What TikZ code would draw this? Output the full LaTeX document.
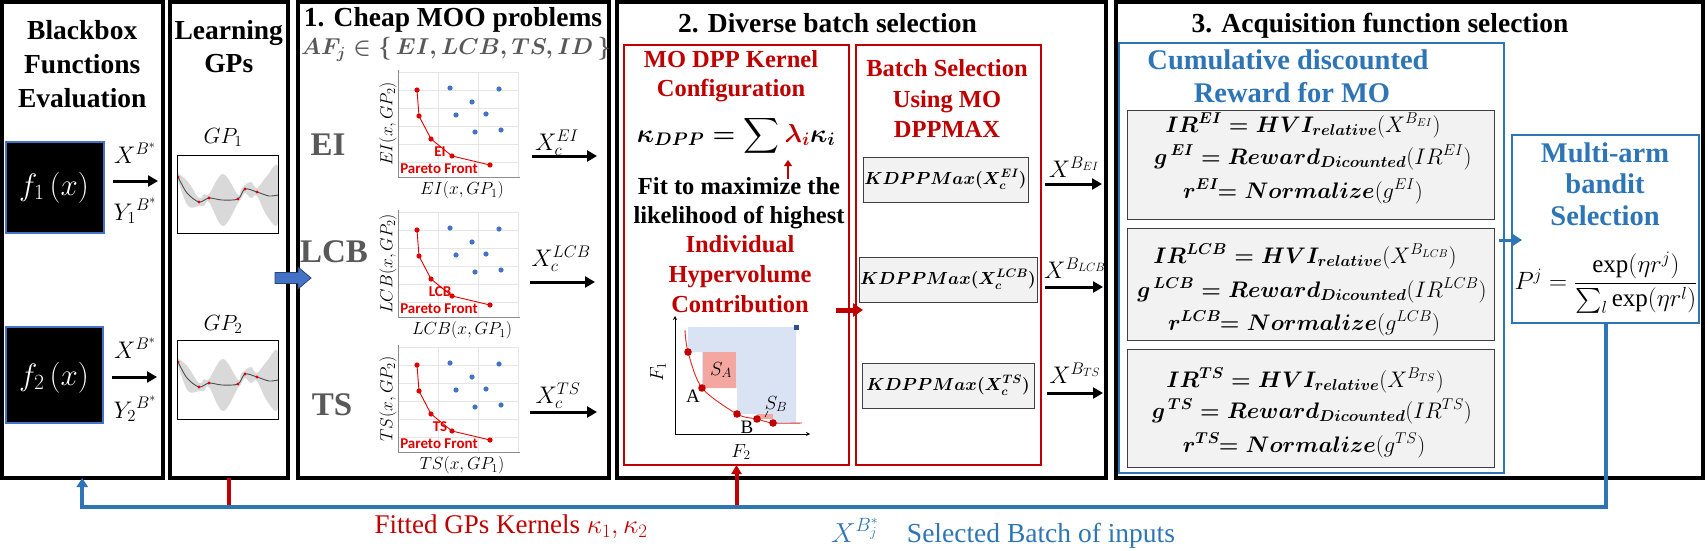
\RequirePackage{fix-cm}
\documentclass[tikz,border=0pt]{standalone}
\usepackage{amsmath}
\usepackage{fontspec}
\setmainfont{Liberation Serif}
\newfontfamily\tnr{Liberation Serif}
\newfontfamily\calib{Carlito}
\usetikzlibrary{arrows.meta,shapes.arrows}
\definecolor{dred}{HTML}{C00000}
\definecolor{mblue}{HTML}{2E75B6}
\definecolor{gtxt}{HTML}{595959}
\definecolor{gfill}{HTML}{F2F2F2}
\definecolor{hvblue}{HTML}{DAE3F3}
\definecolor{hvpink}{HTML}{F4A7A0}
\definecolor{dotblue}{HTML}{4472C4}
\definecolor{dotred}{HTML}{E00000}
\definecolor{bandgray}{HTML}{D9D9D9}
\newcommand\fs[1]{\fontsize{#1}{#1}\selectfont}
\newcommand\bmath[1]{{\boldmath$#1$}}
\newcommand\afset{\bmath{AF_j \in \lbrace\,EI, LCB, TS, ID\,\rbrace}}
\newcommand\kapformula{\bmath{\displaystyle\kappa_{DPP} = \sum \textcolor{dred}{\lambda_i}\kappa_i}}
\newcommand\bx[6]{\node[#6,minimum width={(#4)-(#2)},minimum height={(#5)-(#3)}] (#1) at ({((#2)+(#4))/2},{((#3)+(#5))/2}) {};}
\newcommand\moplot[3]{%
\begin{scope}[shift={(398,#1)}]
 \foreach \yy in {0,18,36,54,72,90} \draw[gridl] (0,\yy) -- (120,\yy);
 \foreach \xx in {40,80,120} \draw[gridl] (\xx,0) -- (\xx,105);
 \draw[axl] (0,-2) -- (0,105) -- (122,105);
 \draw[pfl] (19,18) -- (21,44) -- (33,67) -- (54,84) -- (92,93);
 \foreach \p in {(19,18),(21,44),(33,67),(54,84),(92,93)} \fill[dotred] \p circle (2.6pt);
 \foreach \p in {(52,16),(101,17),(74,30),(58,43),(88,42),(77,60),(103,58)} \fill[dotblue] \p circle (2.6pt);
 \node[pft] (#2lab) at (42,80) {#3};
 \node[pft] (#2pf) at (41,97) {Pareto Front};
 \node[axlab,rotate=90] (#2yl) at (-10,52) {$#3(x,GP_2)$};
 \node[axlab] (#2xl) at (64,118) {$#3(x,GP_1)$};
\end{scope}}
\newcommand\gpplot[1]{%
\begin{scope}[shift={(177,#1)}]
 \clip (0,0) rectangle (101,79);
 \fill[bandgray] plot[smooth cycle,tension=0.6] coordinates {(0,16) (1,18) (11,27) (22,43) (27,39) (32,39) (46,19) (61,40) (64,34) (68,30) (74,27) (80,33) (90,21) (101,12) (101,68) (90,61) (80,41) (74,43) (68,38) (64,44) (61,48) (46,71) (32,47) (27,51) (22,51) (11,51) (1,26) (0,26)};
 \draw[black!70,line width=0.9pt] plot[smooth] coordinates {(0,21) (1,22) (10,38) (22,47) (32,43) (45,45) (61,44) (68,34) (80,37) (92,41) (101,40)};
 \foreach \p in {(1,22),(22,47),(32,43),(61,44),(68,34),(80,37)} \fill[dotred] \p circle (1.6pt);
\end{scope}}
\begin{document}
\begin{tikzpicture}[x=1pt,y=-1pt,
 bigbox/.style={draw=black,line width=4pt,inner sep=0pt,outer sep=0pt},
 fbox/.style={fill=black,draw=dotblue,line width=1.2pt,inner sep=0pt,outer sep=0pt},
 thinbox/.style={draw=black,line width=1pt,inner sep=0pt,outer sep=0pt},
 redbox/.style={draw=dred,line width=1.5pt,inner sep=0pt,outer sep=0pt},
 bluebox/.style={draw=mblue,line width=2pt,inner sep=0pt,outer sep=0pt},
 greybox/.style={fill=gfill,draw=black!75,line width=1pt,inner sep=0pt,outer sep=0pt},
 ttl/.style={font=\tnr\fs{27.5}\bfseries,anchor=base,inner sep=0pt},
 redt/.style={font=\tnr\fs{24.5}\bfseries,text=dred,anchor=base,inner sep=0pt},
 blkt/.style={font=\tnr\fs{24.5}\bfseries,text=black,anchor=base,inner sep=0pt},
 bluet/.style={font=\tnr\fs{28.5}\bfseries,text=mblue,anchor=base,inner sep=0pt},
 rowl/.style={font=\tnr\fs{33}\bfseries,text=gtxt,anchor=base,inner sep=0pt},
 gmath/.style={font=\tnr\fs{23},text=gtxt,anchor=base,inner sep=0pt},
 mlab/.style={font=\tnr\fs{24},anchor=base,inner sep=0pt},
 wmath/.style={font=\tnr\fs{31},text=white,anchor=base,inner sep=0pt},
 gplab/.style={font=\tnr\fs{22},anchor=base,inner sep=0pt},
 kapt/.style={font=\tnr\fs{26},anchor=base,inner sep=0pt},
 kdt/.style={font=\tnr\fs{17.5},inner sep=0pt},
 eqn/.style={font=\tnr\fs{22.5},anchor=base,inner sep=0pt},
 pfrac/.style={font=\tnr\fs{25},inner sep=0pt},
 hvl/.style={font=\tnr\fs{19},inner sep=0pt},
 fitt/.style={font=\tnr\fs{27},text=dred,anchor=base,inner sep=0pt},
 selt/.style={font=\tnr\fs{27.5},text=mblue,anchor=base,inner sep=0pt},
 arr/.style={line width=3pt,-{Triangle[length=10pt,width=11pt]}},
 fbl/.style={draw=mblue,line width=4pt},
 fbr/.style={draw=dred,line width=4pt},
 gridl/.style={draw=black!10,line width=0.6pt},
 axl/.style={draw=black!45,line width=0.9pt},
 pfl/.style={draw=dotred,line width=0.9pt},
 pft/.style={font=\calib\fs{15}\bfseries,text=dotred,inner sep=0pt},
 axlab/.style={font=\tnr\fs{17.5},inner sep=0pt}]
\useasboundingbox (0,0) rectangle (1708,551);
\fill[white] (0,0) rectangle (1708,551);
% main boxes
\bx{box1}{2}{2}{162.5}{478}{bigbox}
\bx{box2}{169.5}{2}{288}{478}{bigbox}
\bx{box3}{297.5}{2}{608.5}{478}{bigbox}
\bx{box4}{616.5}{2}{1105.5}{478}{bigbox}
\bx{box5}{1115.5}{2}{1702.5}{478}{bigbox}
% titles
\node[ttl] (t1a) at (82.25,40) {Blackbox};
\node[ttl] (t1b) at (82.25,73.5) {Functions};
\node[ttl] (t1c) at (82.25,107) {Evaluation};
\node[ttl] (t2a) at (228.75,40) {Learning};
\node[ttl] (t2b) at (228.75,73) {GPs};
\node[ttl] (t3a) at (453,27) {1. Cheap MOO problems};
\node[gmath] (t3b) at (456,55) {\afset};
\node[ttl] (t4a) at (827.5,33) {2. Diverse batch selection};
\node[ttl] (t5a) at (1380,33) {3. Acquisition function selection};
% box 1
\bx{f1}{6}{142}{104}{233}{fbox}
\bx{f2}{6}{327}{103}{423}{fbox}
\node[wmath] (f1t) at (54,195) {$f_1\,(x)$};
\node[wmath] (f2t) at (54,385) {$f_2\,(x)$};
\node[mlab] (x1) at (135,163) {$X^{B^*}$};
\node[mlab] (y1) at (135,220) {${Y_1}^{B^*}$};
\node[mlab] (x2) at (135,358) {$X^{B^*}$};
\node[mlab] (y2) at (135,418) {${Y_2}^{B^*}$};
\coordinate (a1s) at (113,181); \coordinate (a1e) at (158,181);
\coordinate (a2s) at (112,377); \coordinate (a2e) at (157,377);
\draw[arr] (a1s) -- (a1e);
\draw[arr] (a2s) -- (a2e);
% box 2
\gpplot{155}
\gpplot{340}
\bx{gp1f}{177}{155}{278}{233}{thinbox}
\bx{gp2f}{177}{340}{278}{419}{thinbox}
\node[gplab] (gl1) at (223,143) {$GP_1$};
\node[gplab] (gl2) at (223,330) {$GP_2$};
\fill[dotblue,draw=dotblue!60!black,line width=0.8pt] (275,272.5) -- (298,272.5) -- (298,267) -- (311,278) -- (298,289) -- (298,283.5) -- (275,283.5) -- cycle;
% box 3
\node[rowl] (rEI) at (328,155) {EI};
\node[rowl] (rLCB) at (334,262) {LCB};
\node[rowl] (rTS) at (332,415) {TS};
\moplot{72}{pe}{EI}
\moplot{212}{pl}{LCB}
\moplot{347}{pt}{TS}
\node[mlab] (xc1) at (557,150) {$X_c^{EI}$};
\node[mlab] (xc2) at (561,266) {$X_c^{LCB}$};
\node[mlab] (xc3) at (558,403) {$X_c^{TS}$};
\coordinate (c1s) at (532,156); \coordinate (c1e) at (597,156);
\coordinate (c2s) at (530,282); \coordinate (c2e) at (595,282);
\coordinate (c3s) at (530,412); \coordinate (c3e) at (597,412);
\draw[arr] (c1s) -- (c1e);
\draw[arr] (c2s) -- (c2e);
\draw[arr] (c3s) -- (c3e);
% box 4
\bx{rb1}{624}{45}{849}{465}{redbox}
\bx{rb2}{856}{45}{1041}{465}{redbox}
\node[redt] (r1a) at (731,67) {MO DPP Kernel};
\node[redt] (r1b) at (731,96) {Configuration};
\node[kapt] (kap) at (736,142) {\kapformula};
\coordinate (la1) at (788,179); \coordinate (la2) at (788,160);
\draw[draw=dred,line width=2.5pt,-{Triangle[length=6pt,width=8pt]}] (la1) -- (la2);
\node[blkt] (r1c) at (739,194) {Fit to maximize the};
\node[blkt] (r1d) at (739,223) {likelihood of highest};
\node[redt] (r1e) at (740,252) {Individual};
\node[redt] (r1f) at (740,282) {Hypervolume};
\node[redt] (r1g) at (740,312) {Contribution};
% hypervolume plot
\fill[hvblue] (688,327) -- (796,327) -- (796,423) -- (773,423) -- (773,419) -- (757,419) -- (757,414) -- (737,414) -- (737,388) -- (702,388) -- (702,352) -- (688,352) -- cycle;
\fill[hvpink] (703,352) rectangle (736,388);
\fill[hvpink] (757,414) rectangle (773,419);
\draw[dotred!85,line width=0.9pt] plot[smooth] coordinates {(685,330) (688,352) (702,388) (737,414) (757,419) (773,423) (802,423)};
\foreach \p in {(688,352),(702,388),(737,414),(757,419),(773,423)} \fill[dred] \p circle (3.8pt);
\fill[dotblue!70!black] (793.5,324.5) rectangle (798.5,329.5);
\coordinate (hvo) at (675,434); \coordinate (hvy) at (675,316); \coordinate (hvx) at (810,434);
\draw[line width=0.9pt,-{Stealth[length=4pt,width=4pt]}] (hvo) -- (hvy);
\draw[line width=0.9pt,-{Stealth[length=4pt,width=4pt]}] (hvo) -- (hvx);
\node[hvl,rotate=90] (hf1) at (658,372) {$F_1$};
\node[hvl] (hf2) at (741,452) {$F_2$};
\node[hvl] (hsa) at (721,370) {$S_A$};
\node[hvl] (hsb) at (776,404) {$S_B$};
\coordinate (sbt1) at (768,411); \coordinate (sbt2) at (765,417);
\draw[line width=0.6pt] (sbt1) -- (sbt2);
\node[hvl] (hA) at (693,396) {A};
\node[hvl] (hB) at (747,427) {B};
% red box 2
\node[redt] (r2a) at (947,77) {Batch Selection};
\node[redt] (r2b) at (947,107) {Using MO};
\node[redt] (r2c) at (947,137) {DPPMAX};
\bx{k1}{863}{157}{1028}{202}{greybox}
\bx{k2}{859}{257}{1037}{302}{greybox}
\bx{k3}{862}{363}{1034}{408}{greybox}
\node[kdt] (k1t) at (k1.center) {\bmath{KDPPMax(X_c^{EI})}};
\node[kdt] (k2t) at (k2.center) {\bmath{KDPPMax(X_c^{LCB})}};
\node[kdt] (k3t) at (k3.center) {\bmath{KDPPMax(X_c^{TS})}};
\coordinate (rr1) at (836,310); \coordinate (rr2) at (863,310);
\draw[draw=dred,line width=5pt,-{Triangle[length=10pt,width=13pt]}] (rr1) -- (rr2);
\node[mlab] (xb1) at (1074,177) {$X^{B_{EI}}$};
\node[mlab] (xb2) at (1075,278) {$X^{B_{LCB}}$};
\node[mlab] (xb3) at (1075,383) {$X^{B_{TS}}$};
\coordinate (b1s) at (1045,184); \coordinate (b1e) at (1102,184);
\coordinate (b2s) at (1045,287); \coordinate (b2e) at (1103,287);
\coordinate (b3s) at (1047,393); \coordinate (b3e) at (1103,393);
\draw[arr] (b1s) -- (b1e);
\draw[arr] (b2s) -- (b2e);
\draw[arr] (b3s) -- (b3e);
% box 5
\bx{cum}{1119}{43}{1504}{473}{bluebox}
\bx{mab}{1512}{135}{1699}{323}{bluebox}
\node[bluet] (cu1) at (1288,70) {Cumulative discounted};
\node[bluet] (cu2) at (1292,102) {Reward for MO};
\bx{g1}{1127}{110}{1494}{219}{greybox}
\bx{g2}{1127}{228}{1494}{340}{greybox}
\bx{g3}{1127}{349}{1494}{467}{greybox}
\node[eqn] (e1a) at (1303,132) {\bmath{IR^{EI} = HVI_{relative}}$(X^{B_{EI}})$};
\node[eqn] (e1b) at (1313,164) {\bmath{g^{\,EI} = Reward_{Dicounted}}$(IR^{EI})$};
\node[eqn] (e1c) at (1303,198) {\bmath{r^{EI}\!\!= Normalize}$(g^{EI})$};
\node[eqn] (e2a) at (1305,263) {\bmath{IR^{LCB} = HVI_{relative}}$(X^{B_{LCB}})$};
\node[eqn] (e2b) at (1312,297) {\bmath{g^{\,LCB} = Reward_{Dicounted}}$(IR^{LCB})$};
\node[eqn] (e2c) at (1304,330) {\bmath{r^{LCB}\!\!= Normalize}$(g^{LCB})$};
\node[eqn] (e3a) at (1305,387) {\bmath{IR^{TS} = HVI_{relative}}$(X^{B_{TS}})$};
\node[eqn] (e3b) at (1312,418) {\bmath{g^{\,TS} = Reward_{Dicounted}}$(IR^{TS})$};
\node[eqn] (e3c) at (1304,452) {\bmath{r^{TS}\!\!= Normalize}$(g^{TS})$};
\node[bluet] (m1) at (1605,162) {Multi-arm};
\node[bluet] (m2) at (1605,193) {bandit};
\node[bluet] (m3) at (1605,225) {Selection};
\node[pfrac] (pf) at (1606,283) {$P^j = \dfrac{\exp(\eta r^j)}{\sum_l \exp(\eta r^l)}$};
\coordinate (cma) at (1499,240); \coordinate (cmb) at (1522,240);
\draw[draw=mblue,line width=3pt,-{Triangle[length=9pt,width=11pt]}] (cma) -- (cmb);
% feedback lines
\coordinate (fbc) at (82.25,507);
\draw[fbr] (box2.south) -- (box2.south |- fbc);
\draw[fbr,-{Triangle[length=9pt,width=10pt]}] (rb1.south |- fbc) -- (rb1.south);
\draw[fbl,-{Triangle[length=9pt,width=11pt]}] (mab.south) |- (fbc) -- (box1.south);
% bottom labels
\node[fitt] (fit) at (511,533) {Fitted GPs Kernels $\kappa_1, \kappa_2$};
\node[selt] (xbj) at (855,542) {$X^{B_j^*}$};
\node[selt] (sel) at (1041,542) {Selected Batch of inputs};
\end{tikzpicture}
\end{document}
